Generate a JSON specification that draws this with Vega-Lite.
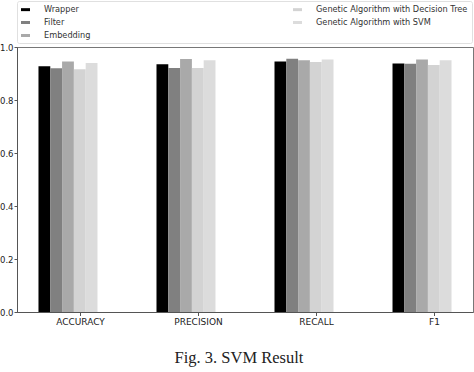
{
  "$schema": "https://vega.github.io/schema/vega-lite/v6.json",
  "autosize": "none",
  "width": 456,
  "height": 265,
  "padding": {"left": 17, "top": 47, "right": 1, "bottom": 60},
  "background": "white",
  "config": {
    "view": {"stroke": "#777", "strokeWidth": 1},
    "font": "DejaVu Sans"
  },
  "title": {
    "text": "Fig. 3.  SVM Result",
    "orient": "bottom",
    "anchor": "middle",
    "font": "Liberation Serif",
    "fontSize": 16.5,
    "fontWeight": "normal",
    "color": "#222",
    "offset": 23,
    "dx": -6
  },
  "data": {
    "values": [
      {"metric": "ACCURACY", "method": "Wrapper", "value": 0.927},
      {"metric": "ACCURACY", "method": "Filter", "value": 0.920},
      {"metric": "ACCURACY", "method": "Embedding", "value": 0.945},
      {"metric": "ACCURACY", "method": "Genetic Algorithm with Decision Tree", "value": 0.916},
      {"metric": "ACCURACY", "method": "Genetic Algorithm with SVM", "value": 0.940},
      {"metric": "PRECISION", "method": "Wrapper", "value": 0.935},
      {"metric": "PRECISION", "method": "Filter", "value": 0.921},
      {"metric": "PRECISION", "method": "Embedding", "value": 0.955},
      {"metric": "PRECISION", "method": "Genetic Algorithm with Decision Tree", "value": 0.921},
      {"metric": "PRECISION", "method": "Genetic Algorithm with SVM", "value": 0.950},
      {"metric": "RECALL", "method": "Wrapper", "value": 0.945},
      {"metric": "RECALL", "method": "Filter", "value": 0.956},
      {"metric": "RECALL", "method": "Embedding", "value": 0.950},
      {"metric": "RECALL", "method": "Genetic Algorithm with Decision Tree", "value": 0.943},
      {"metric": "RECALL", "method": "Genetic Algorithm with SVM", "value": 0.953},
      {"metric": "F1", "method": "Wrapper", "value": 0.938},
      {"metric": "F1", "method": "Filter", "value": 0.937},
      {"metric": "F1", "method": "Embedding", "value": 0.953},
      {"metric": "F1", "method": "Genetic Algorithm with Decision Tree", "value": 0.932},
      {"metric": "F1", "method": "Genetic Algorithm with SVM", "value": 0.950}
    ]
  },
  "mark": {"type": "bar"},
  "encoding": {
    "x": {
      "field": "metric",
      "type": "nominal",
      "sort": ["ACCURACY", "PRECISION", "RECALL", "F1"],
      "scale": {"paddingInner": 0.5, "paddingOuter": 0.182},
      "axis": {
        "title": null,
        "labelAngle": 0,
        "labelFontSize": 9,
        "labelColor": "#222",
        "tickOffset": 12,
        "tickSize": 3.5,
        "tickColor": "#555",
        "domainColor": "#555",
        "labelPadding": 2
      }
    },
    "xOffset": {
      "field": "method",
      "type": "nominal",
      "sort": ["Wrapper", "Filter", "Embedding", "Genetic Algorithm with Decision Tree", "Genetic Algorithm with SVM"],
      "scale": {"paddingInner": 0, "paddingOuter": 0}
    },
    "y": {
      "field": "value",
      "type": "quantitative",
      "scale": {"domain": [0, 1], "nice": false},
      "axis": {
        "title": null,
        "values": [0, 0.2, 0.4, 0.6, 0.8, 1.0],
        "format": ".1f",
        "grid": false,
        "labelFontSize": 8.5,
        "labelColor": "#222",
        "tickSize": 3,
        "tickColor": "#555",
        "domainColor": "#555",
        "labelPadding": 1
      }
    },
    "color": {
      "field": "method",
      "type": "nominal",
      "scale": {
        "domain": ["Wrapper", "Filter", "Embedding", "Genetic Algorithm with Decision Tree", "Genetic Algorithm with SVM"],
        "range": ["#000000", "#808080", "#a9a9a9", "#d3d3d3", "#dcdcdc"]
      },
      "legend": {
        "title": null,
        "orient": "none",
        "legendX": 0,
        "legendY": -46,
        "columns": 2,
        "columnPadding": 202,
        "rowPadding": 4,
        "padding": 4,
        "strokeColor": "#e0e0e0",
        "fillColor": "white",
        "cornerRadius": 2,
        "symbolType": "M-1,-0.33H1V0.33H-1Z",
        "symbolSize": 81,
        "symbolStrokeWidth": 0,
        "labelFontSize": 8.2,
        "labelColor": "#333",
        "labelOffset": 14,
        "labelLimit": 300
      }
    }
  }
}
